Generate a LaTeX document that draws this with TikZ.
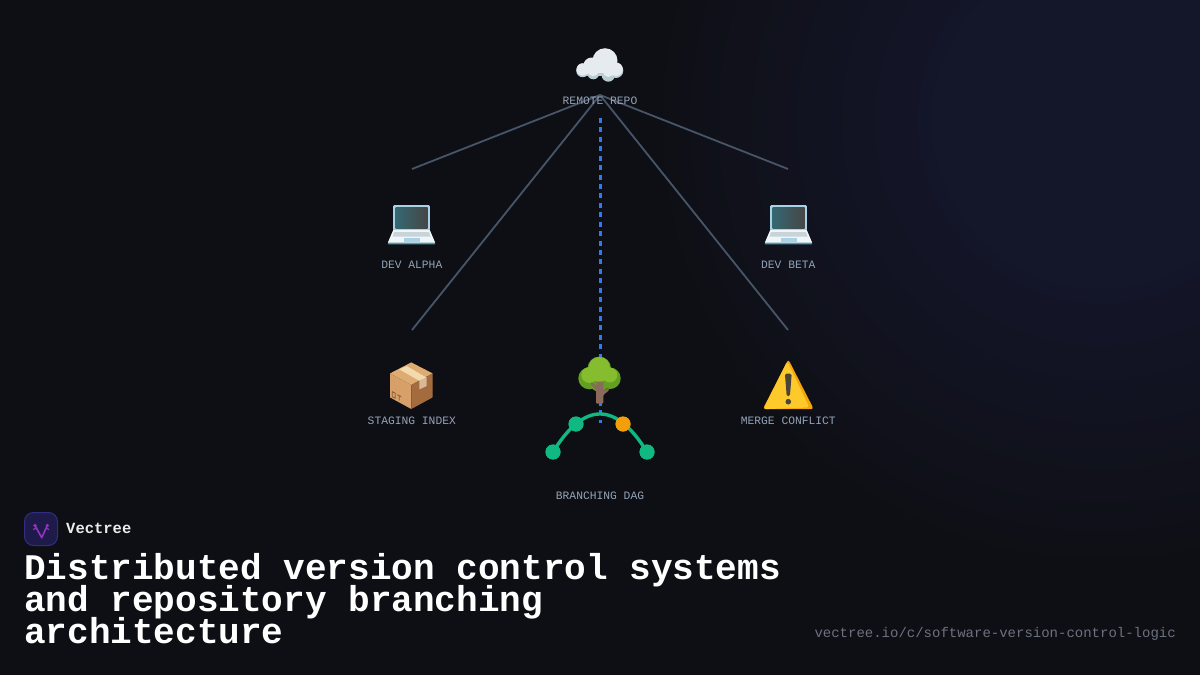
\documentclass[tikz,border=0pt]{standalone}
\usepackage{fontspec}
\setmonofont{Liberation Mono}
\usepackage{xcolor}
\usetikzlibrary{arrows.meta,calc}
\definecolor{vecbase}{RGB}{14,15,20}
\definecolor{vecglow}{RGB}{20,22,42}
\definecolor{vecslate}{RGB}{71,85,105}
\definecolor{vecblue}{RGB}{50,120,240}
\definecolor{vecgreen}{RGB}{16,185,129}
\definecolor{vecorange}{RGB}{245,158,11}
\definecolor{veclabel}{RGB}{148,163,184}
\definecolor{vecurl}{RGB}{107,114,128}
\definecolor{logofill}{RGB}{30,27,75}
\definecolor{logoedge}{RGB}{49,46,129}
\definecolor{logomark}{RGB}{147,51,190}
\definecolor{cloudlight}{RGB}{230,235,239}
\definecolor{cloudshade}{RGB}{184,205,212}
\pgfdeclareradialshading{bgglow}{\pgfpoint{0bp}{0bp}}{color(0bp)=(vecglow); color(8bp)=(vecglow); color(25bp)=(vecbase); color(50bp)=(vecbase)}
\tikzset{
  spoke/.style={draw=vecslate, line width=1.8pt},
  trunkline/.style={draw=vecblue, line width=3pt, dash pattern=on 5pt off 4.43pt},
  dagcurve/.style={draw=vecgreen, line width=3.4pt},
  dagdot/.style={circle, fill=vecgreen, minimum size=15pt, inner sep=0pt},
  iconlabel/.style={font=\ttfamily\fontsize{11.3}{13}\selectfont, text=veclabel, inner sep=0pt},
  laptopicon/.pic={
    \fill[rounded corners=1pt, fill={rgb,255:red,168;green,211;blue,230}] (-18.3,-19.3) rectangle (18.3,6);
    \shade[left color={rgb,255:red,52;green,104;blue,114}, right color={rgb,255:red,70;green,70;blue,70}] (-16,-17) rectangle (16,4);
    \fill[fill={rgb,255:red,84;green,150;blue,170}, rounded corners=0.8pt] (-18.3,5.7) -- (18.3,5.7) -- (24,19.8) -- (-24,19.8) -- cycle;
    \fill[fill={rgb,255:red,240;green,246;blue,248}] (-18.3,5.7) -- (18.3,5.7) -- (23.6,18) -- (-23.6,18) -- cycle;
    \fill[fill={rgb,255:red,200;green,212;blue,218}] (-17.5,7.5) -- (17.5,7.5) -- (19,12) -- (-19,12) -- cycle;
    \fill[fill={rgb,255:red,168;green,211;blue,230}] (-8,13.2) rectangle (8,17);
  },
  boxicon/.pic={
    \fill[fill={rgb,255:red,222;green,172;blue,114}] (0,-23.3) -- (21.3,-12.3) -- (0,-0.7) -- (-21.3,-12.3) -- cycle;
    \fill[fill={rgb,255:red,214;green,160;blue,104}] (-21.3,-12.3) -- (0,-0.7) -- (0,23.3) -- (-21.3,11.7) -- cycle;
    \fill[fill={rgb,255:red,164;green,108;blue,62}] (21.3,-12.3) -- (0,-0.7) -- (0,23.3) -- (21.3,11.7) -- cycle;
    \fill[fill={rgb,255:red,243;green,217;blue,174}] (-12,-16.3) -- (-4.7,-19.7) -- (15.3,-8) -- (8,-5) -- cycle;
    \fill[fill={rgb,255:red,216;green,185;blue,152}] (8,-5) -- (15.3,-8) -- (15.3,0.3) -- (8,3.7) -- cycle;
    \draw[draw={rgb,255:red,140;green,96;blue,58}, line width=0.8pt] (-19,6) -- (-19,11) -- (-16,12.5) -- (-16,7.5) -- cycle (-14,9) -- (-10,11) (-12,10) -- (-12,15);
  },
  treeicon/.pic={
    \fill[fill={rgb,255:red,98;green,160;blue,34}] (-10,-1.7) circle (11) (10.7,-1.7) circle (10.7) (0,-11.7) circle (11.7) (0,1.7) circle (10);
    \fill[fill={rgb,255:red,133;green,189;blue,46}] (0,-12.5) circle (10.5) (-10,-5) circle (8) (10.5,-5) circle (7.5) (0,-6) circle (8);
    \fill[fill={rgb,255:red,138;green,106;blue,90}, rounded corners=1pt] (-3.3,23.5) -- (-3.3,10) -- (-9.5,3.8) -- (-7.5,2) -- (-2.7,6) -- (-2.7,1.7) -- (4,1.7) -- (4,11) -- (9,8) -- (10,10) -- (4,15) -- (4,23.5) -- cycle;
  },
  warnicon/.pic={
    \fill[rounded corners=3pt, fill={rgb,255:red,244;green,166;blue,12}] (0,-26.5) -- (25.5,23.5) -- (-25.5,23.5) -- cycle;
    \fill[rounded corners=3pt, fill={rgb,255:red,253;green,201;blue,43}] (-1,-24.5) -- (21,21.8) -- (-25,23.5) -- cycle;
    \fill[rounded corners=1.5pt, fill={rgb,255:red,74;green,69;blue,54}] (-3.4,-12) -- (3.4,-12) -- (1.6,10.5) -- (-1.6,10.5) -- cycle;
    \fill[fill={rgb,255:red,74;green,69;blue,54}] (0,16) circle (2.8);
  },
  cloudicon/.pic={
    \fill[cloudshade] (-17.3,5.7) circle (6.5) (16,5.7) circle (7.3) (-6.7,8.3) circle (6) (8.3,10) circle (6.7);
    \fill[cloudshade] (-17,3) rectangle (16,11);
    \fill[cloudlight] (5,-4.3) circle (12.5) (-8.3,1) circle (8.5) (-17.3,4.4) circle (6.2) (16,4.2) circle (6.8) (-6.7,5.8) circle (5.5) (8.3,6.5) circle (5.5);
    \fill[cloudlight] (-17,1) rectangle (16,8);
  }
}
\begin{document}
\begin{tikzpicture}[x=1pt,y=-1pt]
\useasboundingbox (0,0) rectangle (1200,675);
\fill[vecbase] (0,0) rectangle (1200,675);
\begin{scope}
\clip (0,0) rectangle (1200,675);
\shade[shading=bgglow] (640,-340) rectangle (1560,580);
\end{scope}

% hub and spoke ends
\coordinate (hub) at (600,95);
\coordinate (alphaend) at (412,169);
\coordinate (betaend) at (788,169);
\coordinate (stagingend) at (412,330);
\coordinate (conflictend) at (788,330);
\coordinate (trunktop) at (600,118);
\coordinate (trunkend) at (600,423);

\draw[spoke] (hub) -- (alphaend);
\draw[spoke] (hub) -- (betaend);
\draw[spoke] (hub) -- (stagingend);
\draw[spoke] (hub) -- (conflictend);
\draw[trunkline] (trunktop) -- (trunkend);

% icons
\pic at (600,65) {cloudicon};
\pic at (411.5,224.5) {laptopicon};
\pic at (788.5,224.5) {laptopicon};
\pic at (411.3,385.7) {boxicon};
\pic at (599.3,380) {treeicon};
\pic at (788.3,385.7) {warnicon};

% labels
\node[iconlabel] (remotelabel) at (600,101) {REMOTE REPO};
\node[iconlabel] (alphalabel) at (411.8,265) {DEV ALPHA};
\node[iconlabel] (betalabel) at (788.3,265) {DEV BETA};
\node[iconlabel] (stagelabel) at (411.8,421) {STAGING INDEX};
\node[iconlabel] (conflictlabel) at (788.3,421) {MERGE CONFLICT};
\node[iconlabel] (daglabel) at (600,496) {BRANCHING DAG};

% branching dag
\node[dagdot] (dagleft) at (553,452) {};
\node[dagdot] (dagmid) at (576,424) {};
\node[dagdot, fill=vecorange] (dagmerge) at (623,424) {};
\node[dagdot] (dagright) at (647,452) {};
\draw[dagcurve] (dagleft.center) .. controls (584.3,401.3) and (615.7,401.3) .. (dagright.center);
\node[dagdot] at (dagleft) {};
\node[dagdot] at (dagmid) {};
\node[dagdot, fill=vecorange] at (dagmerge) {};
\node[dagdot] at (dagright) {};

% brand
\node[draw=logoedge, fill=logofill, rounded corners=9pt, line width=1pt, minimum size=33pt, inner sep=0pt] (logo) at (41,529) {};
\draw[draw=logomark, line width=1.6pt, line join=round] (35,525.5) -- (41.7,537.7) -- (47.3,525.5);
\draw[draw=logomark, line width=1.2pt] (33.2,529.5) -- (36.5,528) (49,529.5) -- (45.8,528);
\fill[logomark] (35,525.5) circle (1.8) (47.3,525.5) circle (1.8);
\node[font=\ttfamily\bfseries\fontsize{15.5}{18}\selectfont, text=white!92!black, anchor=base west, inner sep=0pt] (brand) at (66,533) {Vectree};

% title
\node[font=\ttfamily\bfseries\fontsize{36.03}{32.4}\selectfont, text=white, anchor=base west, inner sep=0pt] (titleone) at (24,579) {Distributed version control systems};
\node[font=\ttfamily\bfseries\fontsize{36.03}{32.4}\selectfont, text=white, anchor=base west, inner sep=0pt] (titletwo) at (24,611.4) {and repository branching};
\node[font=\ttfamily\bfseries\fontsize{36.03}{32.4}\selectfont, text=white, anchor=base west, inner sep=0pt] (titlethree) at (24,643.8) {architecture};
\node[font=\ttfamily\fontsize{14}{16}\selectfont, text=vecurl, anchor=base east, inner sep=0pt] (sitelink) at (1176,637) {vectree.io/c/software-version-control-logic};
\end{tikzpicture}
\end{document}
